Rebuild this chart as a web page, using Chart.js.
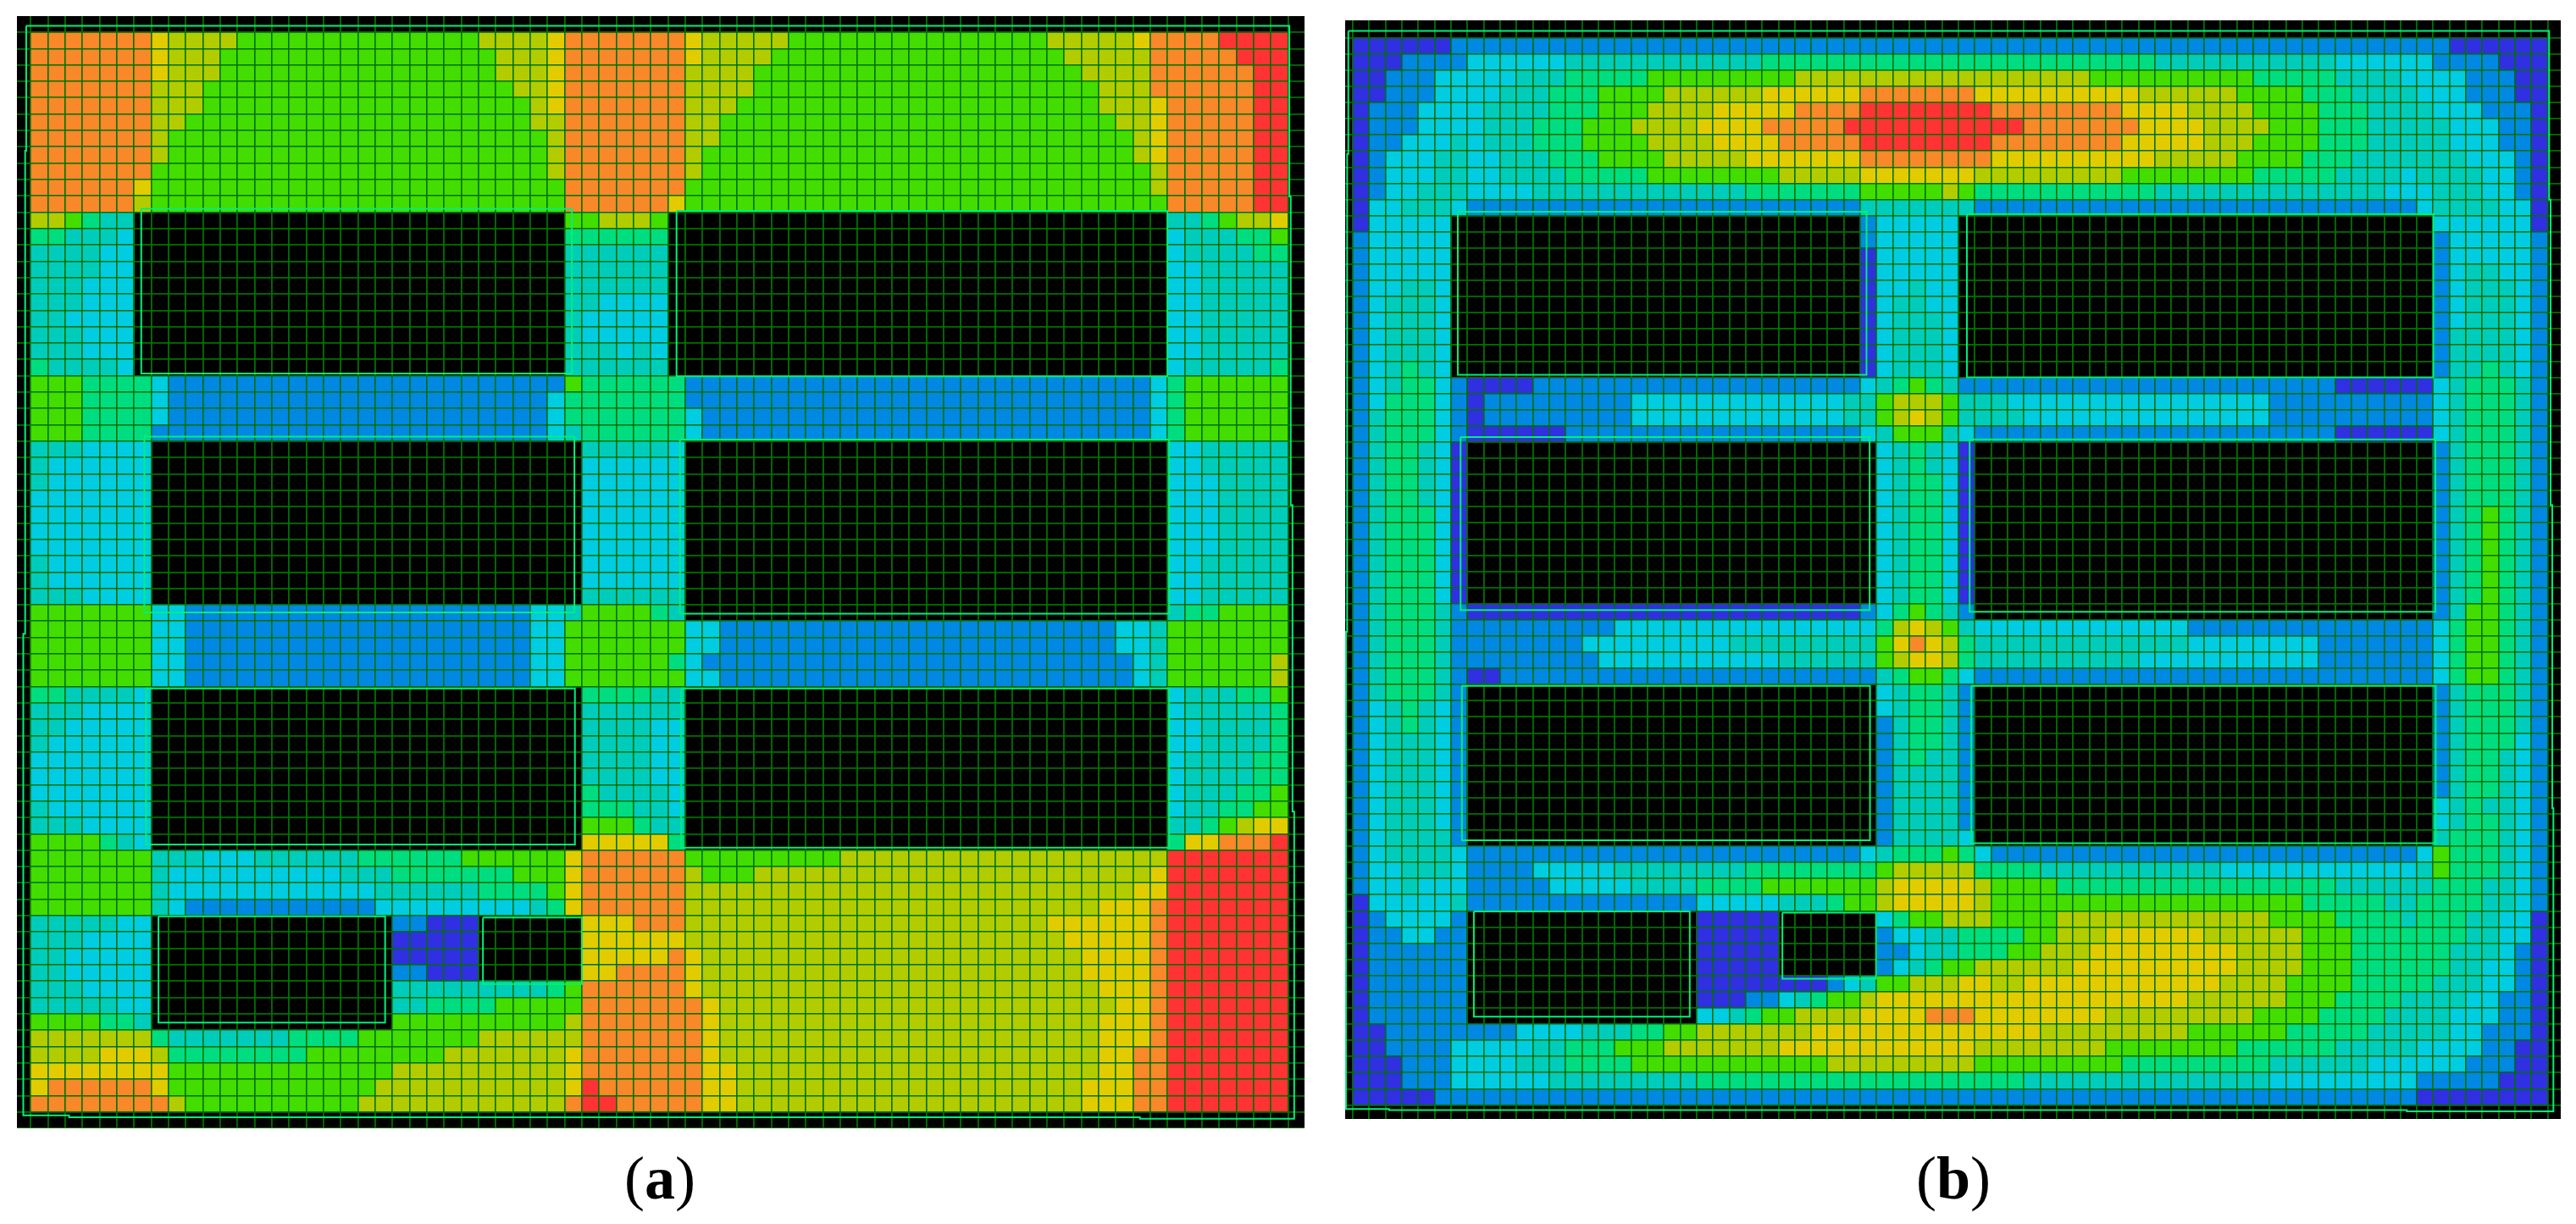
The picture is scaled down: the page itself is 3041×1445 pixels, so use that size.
<!DOCTYPE html>
<html>
<head>
<meta charset="utf-8">
<title>Stress maps</title>
<script src="https://cdn.jsdelivr.net/npm/chart.js@4/dist/chart.umd.min.js"></script>
<style>
    body { margin: 0; background: #fff; width: 3041px; height: 1445px; overflow: hidden; position: relative; }
    canvas { position: absolute; background: #000; }
    #chartA { left: 20px; top: 19px; }
    #chartB { left: 1588px; top: 24px; }
    .caption { position: absolute; top: 1345px; font: 72px/92px "Liberation Serif", serif; color: #000; }
    .caption b { font-weight: bold; }
</style>
</head>
<body>
<canvas id="chartA" width="1520" height="1313"></canvas>
<canvas id="chartB" width="1435" height="1297"></canvas>
<div class="caption" style="left:737px">(<b>a</b>)</div>
<div class="caption" style="left:2262px">(<b>b</b>)</div>
<script>
// colour level of each cell, low to high. '.' in a row means no cell (opening)
const levelCodes = ['b', 'u', 'c', 't', 'm', 'g', 'l', 'y', 'o', 'r'];
const levelColors = ['#3030E2', '#0088E2', '#00CCE2', '#00CCBB', '#00DD80', '#44DD00', '#B2CC00', '#E2CC00', '#F88828', '#FF3333'];

// rows top to bottom, as runs: letter + number of cells
const rowsA = [
    'o7 y1 l4 g14 l4 y1 o7 y1 l5 g15 l5 y1 o4 r4',
    'o7 y1 l3 g16 l3 y1 o7 y1 l4 g17 l5 o5 r3',
    'o7 y1 l3 g16 l3 y1 o7 l4 g19 l4 o6 r2',
    'o7 l3 g18 l2 y1 o7 l4 g20 l3 o6 r2',
    'o7 l3 g19 l1 y1 o7 l3 g21 l3 y1 o5 r2',
    'o7 l2 g20 l2 o7 l2 g23 l2 y1 o5 r2',
    'o7 l1 g22 l1 o7 l2 g24 l1 y1 o5 r2',
    'o7 l1 g22 l1 o7 l1 g25 l1 y1 o5 r2',
    'o7 g23 l1 o7 l1 g26 l1 o5 r2',
    'o6 y1 g24 o7 g27 l1 o5 r2',
    'o6 l1 g24 o6 y1 g28 o5 r2',
    'l2 g1 m1 t2 .25 g2 l3 g1 .29 t2 m1 g1 l2 y1',
    'm2 t3 c1 .25 m6 .29 c1 t3 m2 g1',
    't4 c2 .25 t6 .29 c1 t4 m2',
    't4 c2 .25 t6 .29 c2 t5',
    't3 c3 .25 t6 .29 c2 t5',
    't3 c3 .25 t2 c4 .29 c2 t5',
    't2 c4 .25 t1 c5 .29 c2 t5',
    't3 c3 .25 t1 c5 .29 c2 t5',
    't3 c3 .25 t3 c1 t1 c1 .29 c2 t5',
    'm1 t4 c1 .25 t6 .29 c1 t5 m1',
    'g3 m4 c1 u23 g1 m6 u27 c1 m1 g6',
    'g3 m4 c1 u22 c1 m7 u27 c1 m1 g6',
    'g3 m4 c1 u22 c1 m7 c1 u26 c1 m1 g6',
    'g3 m4 u23 c1 t1 m6 c1 u26 c1 m1 g6',
    't3 c4 .25 t5 c1 .28 c2 t5',
    't1 c6 .25 c6 .28 c2 t5',
    't1 c6 .25 c6 .28 c3 t4',
    'c7 .25 c6 .28 c3 t4',
    'c7 .25 c6 .28 c3 t4',
    'c7 .25 c6 .28 c3 t4',
    'c7 .25 c6 .28 c3 t4',
    't1 c6 .25 c6 .28 c2 t5',
    't1 c6 .25 c6 .28 c2 t5',
    't3 c4 .25 t6 .28 c2 t5',
    'g7 c2 u20 c2 t1 g4 m1 t1 .28 t1 m2 g4',
    'g7 c2 u20 c2 g7 c2 u23 c2 t1 g7',
    'g7 c2 u20 c2 g7 c2 u23 c2 t1 g7',
    'g7 c2 u20 c2 g6 m1 c1 u25 c1 t1 g6 l1',
    'g7 c2 u20 c2 g7 c2 u24 c1 t1 g6 l1',
    'm2 t4 c1 .25 m4 t2 .28 c1 t3 m2 g1',
    't3 c4 .25 t6 .28 c1 t5 m1',
    't2 c5 .25 t4 c2 .28 c2 t4 m1',
    't1 c6 .25 t4 c2 .28 c2 t4 m1',
    'c7 .25 t4 c2 .28 c1 t4 m2',
    'c7 .25 t4 c2 .28 c1 t4 m2',
    'c7 .25 m1 t4 c1 .28 c1 t3 m2 g1',
    't1 c6 .25 m3 t2 c1 .28 c1 t2 m2 g2',
    't3 c4 .25 g3 m1 t2 .28 t2 m1 g1 l1 y2',
    'g4 m1 t1 c1 .25 y5 m1 .28 m1 y2 o3 r1',
    'g7 t3 c3 t6 m6 g6 y1 o6 g9 l19 r7',
    'g7 t1 c10 t3 m7 g3 y1 o6 l1 g3 l23 y1 r7',
    'g7 t1 c12 t6 m4 g1 y1 o6 l26 y2 r7',
    'g7 t1 c1 u11 c9 t1 m1 y1 o6 l24 y3 o1 r7',
    't5 c2 .14 u2 b3 .6 y3 o3 l21 y6 o1 r7',
    't3 c4 .14 b5 .6 y6 l22 y5 o1 r7',
    't2 c5 .14 b5 .6 y5 o1 y1 l22 y4 o1 r7',
    't2 c5 .14 u2 b3 .6 y2 o4 y1 l22 y4 o1 r7',
    't3 c4 .14 t9 m1 g1 o6 y1 l23 y3 o1 r7',
    't5 c2 .14 t2 m4 g5 o7 y1 l23 y2 o1 r7',
    'g4 m2 t1 .14 g10 l1 o7 y1 l22 y3 o1 r7',
    'l7 m1 t7 m4 g7 l6 o7 y1 l22 y3 o1 r7',
    'l4 y3 l1 m8 g8 l7 y1 o7 y1 l22 y2 o2 r7',
    'y8 g13 l10 y1 o7 y2 l21 y2 o2 r7',
    'y1 o6 y1 g12 l11 y1 r1 o6 y2 l20 y3 o2 r7',
    'o8 l1 g10 l12 o1 r2 o5 y2 l20 y3 o2 r7'
];

const rowsB = [
    'b6 u61 b6',
    'b3 u4 c6 t12 m24 t11 c6 u4 b3',
    'b2 u3 c5 t3 m5 g9 l18 g10 m5 t4 c4 u3 b2',
    'b2 u3 c4 t3 m3 g4 l6 y6 o7 y10 l6 g4 m3 t4 c3 u3 b2',
    'b1 u3 c4 t4 m3 g3 l4 y5 o4 r8 o8 y4 l4 g4 m3 t4 c3 u3 b1',
    'b1 u3 c4 t3 m3 g3 l4 y4 o5 r11 o7 y4 l4 g3 m3 t5 c3 u2 b1',
    'b1 u2 c3 t1 c1 t3 m3 g4 l4 y4 o5 r8 o8 y5 l3 g4 m3 t5 c3 u2 b1',
    'b1 u1 c3 t2 c2 t3 m3 g4 l5 y7 o8 y10 l5 g4 m3 t7 c3 u1 b1',
    'b1 u1 c3 t2 c2 t4 m5 g8 l5 y7 l9 g8 m5 t4 c1 t4 c2 u1 b1',
    'b1 u1 c2 t3 c4 t13 m7 g5 l1 g1 m11 t14 c3 t3 c2 u1 b1',
    'b1 c2 t3 c1 u24 t7 u27 c1 t4 c2 b1',
    'b1 c5 .25 u1 c5 .29 c6 b1',
    'u1 c5 .25 u1 c5 .29 u1 c5 u1',
    'u1 c5 .25 b1 c5 .29 u1 c5 u1',
    'u1 c5 .25 b1 c5 .29 u1 c1 t2 c2 u1',
    'u1 c2 t2 c1 .25 b1 c2 t1 c2 .29 u1 c1 t3 c1 u1',
    'u1 c1 t3 c1 .25 b1 c1 t2 c2 .29 u1 c1 t3 c1 u1',
    'u1 c1 t3 c1 .25 b1 c1 t3 c1 .29 u1 c1 t3 c1 u1',
    'u1 c1 t3 c1 .25 b1 c1 t3 c1 .29 u1 t4 c1 u1',
    'u1 c1 t3 c1 .25 b1 c1 t3 c1 .29 u1 t4 c1 u1',
    'u1 c1 t1 m1 t1 c1 .25 b1 c1 t3 c1 .29 u1 t2 m1 t1 c1 u1',
    'u1 c1 t1 m2 c1 u1 b4 u20 c1 t1 m1 g1 m1 t1 u23 b6 c1 t1 m3 t1 u1',
    'u1 c1 m3 c1 u1 b1 u9 c13 t2 g1 l3 g1 t3 c16 u10 c1 t1 m3 t1 u1',
    'u1 t1 m3 c1 u1 b1 u9 c13 t2 g1 l1 y1 l1 g1 t4 c15 u10 c1 t1 m3 t1 u1',
    'u1 t1 m3 c1 u1 b6 u18 c1 t1 g3 t1 c1 u22 b6 c1 t1 m3 t1 u1',
    'u1 t1 m2 t1 c1 b1 .25 c1 t1 m1 t1 c1 b1 .28 u1 t1 m3 t1 u1',
    'u1 t1 m2 t1 c1 b1 .25 c1 t1 m1 t1 c1 b1 .28 u1 t1 m3 t1 u1',
    'u1 t1 m2 t1 c1 b1 .25 c1 t1 m2 c1 b1 .28 u1 t1 m3 t1 u1',
    'u1 t1 m2 t1 c1 b1 .25 c1 t1 m2 c1 b1 .28 u1 t1 m3 t1 u1',
    'u1 t1 m3 c1 b1 .25 c1 t1 m2 c1 b1 .28 u1 t1 m1 g1 m1 t1 u1',
    'u1 t1 m3 c1 b1 .25 c1 t1 m2 c1 b1 .28 u1 t1 m1 g1 m1 t1 u1',
    'u1 t1 m3 c1 b1 .25 c1 t1 m2 c1 b1 .28 u1 t1 m1 g1 m1 t1 u1',
    'u1 t1 m3 c1 b1 .25 c1 t1 m2 c1 b1 .28 u1 t1 m1 g1 m1 t1 u1',
    'u1 t1 m3 c1 b1 .25 c1 t1 m2 c1 b1 .28 u1 t1 m1 g1 m1 t1 u1',
    'u1 t1 m3 c1 b1 .25 c1 t1 m2 c1 b1 .28 u1 t1 m1 g1 m1 t1 u1',
    'u1 t1 m3 t1 u1 b24 u1 c1 m1 g1 m1 t1 u1 .28 u1 t1 g2 m1 t1 u1',
    'u1 t1 m3 t1 u10 c16 m1 l1 y1 l1 g1 t1 c13 u15 c1 m1 g2 m1 t1 u1',
    'u1 t1 m3 t1 u8 c9 t9 g1 y1 o1 y1 l1 m1 t13 c8 u7 c1 m1 g2 m1 t1 u1',
    'u1 t1 m3 t1 u9 c11 t6 g1 l1 y2 l1 m1 t10 c11 u7 c1 m1 g2 m1 t1 u1',
    'u1 t1 m3 t1 u1 b2 u23 t1 m1 g2 m1 c1 u28 c1 m1 g2 m1 t1 u1',
    'u1 t1 m3 t1 u1 .25 c1 t1 m2 t1 u1 .28 u1 t1 m3 t1 u1',
    'u1 c1 t1 m1 t1 c1 u1 .25 c1 t1 m2 t1 u1 .28 u1 t1 m3 t1 u1',
    'u1 c1 t1 m1 t1 c1 u1 .25 u1 t1 m2 t1 u1 .28 u1 t1 m3 t1 u1',
    'u1 c1 t3 c1 u1 .25 u1 t1 m2 t1 u1 .28 u1 t1 m3 c1 u1',
    'u1 c1 t3 c1 u1 .25 u1 t1 m1 t2 u1 .28 u1 t1 m2 t1 c1 u1',
    'u1 c1 t3 c1 u1 .25 u1 t4 u1 .28 u1 t1 m2 t1 c1 u1',
    'u1 c1 t3 c1 u1 .25 u1 t4 u1 .28 u1 t1 m2 t1 c1 u1',
    'u1 c1 t3 c1 u1 .25 u1 t4 u1 .28 c1 t1 m1 t2 c1 u1',
    'u1 c1 t3 c1 u1 .25 u1 t4 u1 .28 c1 t1 m2 t1 c1 u1',
    'u1 c1 t4 u1 .25 u1 t4 c1 .28 t1 m3 t1 c1 u1',
    'u1 c1 t4 c1 u24 c1 t1 m3 g1 m1 c1 u26 c1 g1 m3 t1 c1 u1',
    'u1 c2 t3 c1 u4 c5 t8 m8 g1 l5 m4 t11 c12 t1 g1 m3 t1 c1 u1',
    'u1 c2 t1 c3 u5 c5 t4 m4 g7 l1 y5 l1 g4 m17 t6 m3 t2 c1 u1',
    'b1 c5 t1 u14 c5 t3 m1 g2 l1 y5 l1 g19 m5 t2 m4 t2 c1 u1',
    'b1 u1 c4 u1 .14 b5 .6 c1 m1 g2 l3 g4 l13 g4 m4 t1 m3 t2 c2 b1',
    'b1 u2 c2 u2 .14 b5 .6 u1 c2 t2 m4 g2 l3 y6 l6 g3 m7 t2 c2 b1',
    'b1 u6 .14 b5 .6 u2 c1 t2 m3 g2 l3 y9 l4 g3 m6 t3 c1 u1 b1',
    'b1 u6 .14 b5 .6 u1 c1 t1 m1 g2 l6 y10 l4 g3 m6 t2 c2 u1 b1',
    'b1 u6 .14 b8 u1 c1 t1 g2 l3 y2 l2 y12 l4 g4 m5 t3 c2 u1 b1',
    'b1 u6 .14 b3 u2 c1 t1 m1 g2 l1 y19 l6 g3 m4 t4 c2 u2 b1',
    'b1 u6 .14 c2 t1 m1 g2 l4 y4 o3 y8 l9 g4 m4 t4 c3 u2 b1',
    'b2 u8 c4 t3 m2 g2 l7 y14 l9 g6 m5 t5 c2 u3 b1',
    'b2 u4 c5 t2 m3 g3 l7 y12 l8 g8 m6 t5 c4 u2 b2',
    'b3 u3 c4 t3 m4 g12 l9 g9 m9 t6 c6 u3 b2',
    'b3 u3 c6 t9 m20 t15 c9 u5 b3',
    'b5 u60 b8'
];

// thin frame lines in grid units: [x, y] corners, then openings as [x0, x1, y0, y1]
const frameA = [[-0.26, -0.39], [73.08, -0.39], [73.08, 10.05], [73.16, 10.05], [73.16, 28.9], [73.26, 28.9], [73.26, 47.64], [73.36, 47.64], [73.36, 66.42], [64.4, 66.42], [64.4, 66.33], [2.23, 66.33], [2.23, 66.21], [-0.43, 66.21], [-0.43, 36.77], [-0.32, 36.77], [-0.32, 7.25], [-0.26, 7.25], [-0.26, -0.39]];
const openingsA = [
    [6.42, 31.42, 10.79, 20.87], [37.5, 66, 10.93, 21.03],
    [6.6, 31.57, 24.73, 35.47], [37.7, 66.1, 24.9, 35.55],
    [6.7, 31.6, 40.12, 49.66], [37.77, 66.1, 40.12, 49.85],
    [7.42, 20.58, 54.04, 60.54], [26.26, 32, 54.12, 58.18]
];
const frameB = [[-0.27, -0.42], [73.09, -0.42], [73.09, 10.01], [73.18, 10.01], [73.18, 28.9], [73.28, 28.9], [73.28, 47.64], [73.35, 47.64], [73.35, 66.4], [64.4, 66.4], [64.4, 66.32], [2.22, 66.32], [2.22, 66.25], [-0.41, 66.25], [-0.41, 36.74], [-0.34, 36.74], [-0.34, 7.18], [-0.27, 7.18], [-0.27, -0.42]];
const openingsB = [
    [6.42, 31.39, 10.76, 20.84], [37.52, 66.02, 10.9, 21],
    [6.59, 31.58, 24.7, 35.4], [37.69, 66.14, 24.84, 35.5],
    [6.67, 31.6, 40.08, 49.64], [37.79, 66.16, 40.08, 49.82],
    [7.4, 20.59, 54.03, 60.55], [26.25, 31.97, 54.11, 58.2]
];

const COLS = 73;

function levelDatasets(rows) {
    const cells = levelCodes.map(() => []);
    rows.forEach((row, r) => {
        let col = 0;
        row.split(' ').forEach(run => {
            const level = levelCodes.indexOf(run[0]);
            const count = Number(run.slice(1));
            for (let i = 0; i < count; i++) {
                if (level >= 0) cells[level].push({ x: col + i + 0.5, y: [r, r + 1] });
            }
            col += count;
        });
        if (col !== COLS) throw new Error(`row ${r} has ${col} cells`);
    });
    return cells.map((data, i) => ({
        type: 'bar',
        data,
        backgroundColor: levelColors[i],
        grouped: false,
        barPercentage: 1,
        categoryPercentage: 1,
        order: 2
    }));
}

function lineDataset(points) {
    return {
        type: 'line',
        data: points.map(p => ({ x: p[0], y: p[1] })),
        borderColor: '#00F078',
        borderWidth: 2,
        pointRadius: 0,
        tension: 0,
        fill: false,
        order: 1
    };
}

function openingOutline(o) {
    return [[o[0], o[2]], [o[1], o[2]], [o[1], o[3]], [o[0], o[3]], [o[0], o[2]]];
}

function gridAxis(min, max, reverse) {
    return {
        type: 'linear',
        min,
        max,
        reverse,
        offset: false,
        afterBuildTicks: scale => { scale.ticks = scale.ticks.filter(t => t.value >= 0); },
        ticks: { display: false, stepSize: 1, includeBounds: false },
        border: { display: false },
        grid: { color: '#007000', lineWidth: 1.6, drawTicks: false, offset: false, z: -1 }
    };
}

// bars draw last index first, so index 0 is the last bar layer: grid goes over it, frame lines over the grid
const gridOverCells = {
    id: 'gridOverCells',
    afterDatasetDraw(chart, args) {
        if (args.index !== 0) return;
        chart.scales.x.drawGrid(chart.chartArea);
        chart.scales.y.drawGrid(chart.chartArea);
    }
};

function drawPanel(id, rows, frame, openings, xRange, yRange) {
    new Chart(document.getElementById(id), {
        type: 'bar',
        data: {
            datasets: [
                ...levelDatasets(rows),
                lineDataset(frame),
                ...openings.map(o => lineDataset(openingOutline(o)))
            ]
        },
        plugins: [gridOverCells],
        options: {
            responsive: false,
            animation: false,
            devicePixelRatio: 1,
            events: [],
            layout: { padding: 0 },
            plugins: { legend: { display: false }, tooltip: { enabled: false } },
            scales: {
                x: gridAxis(xRange[0], xRange[1], false),
                y: gridAxis(yRange[0], yRange[1], true)
            }
        }
    });
}

drawPanel('chartA', rowsA, frameA, openingsA, [-0.797, 73.96], [-0.984, 67]);
drawPanel('chartB', rowsB, frameB, openingsB, [-0.46, 73.8], [-1.08, 66.87]);
</script>
</body>
</html>
